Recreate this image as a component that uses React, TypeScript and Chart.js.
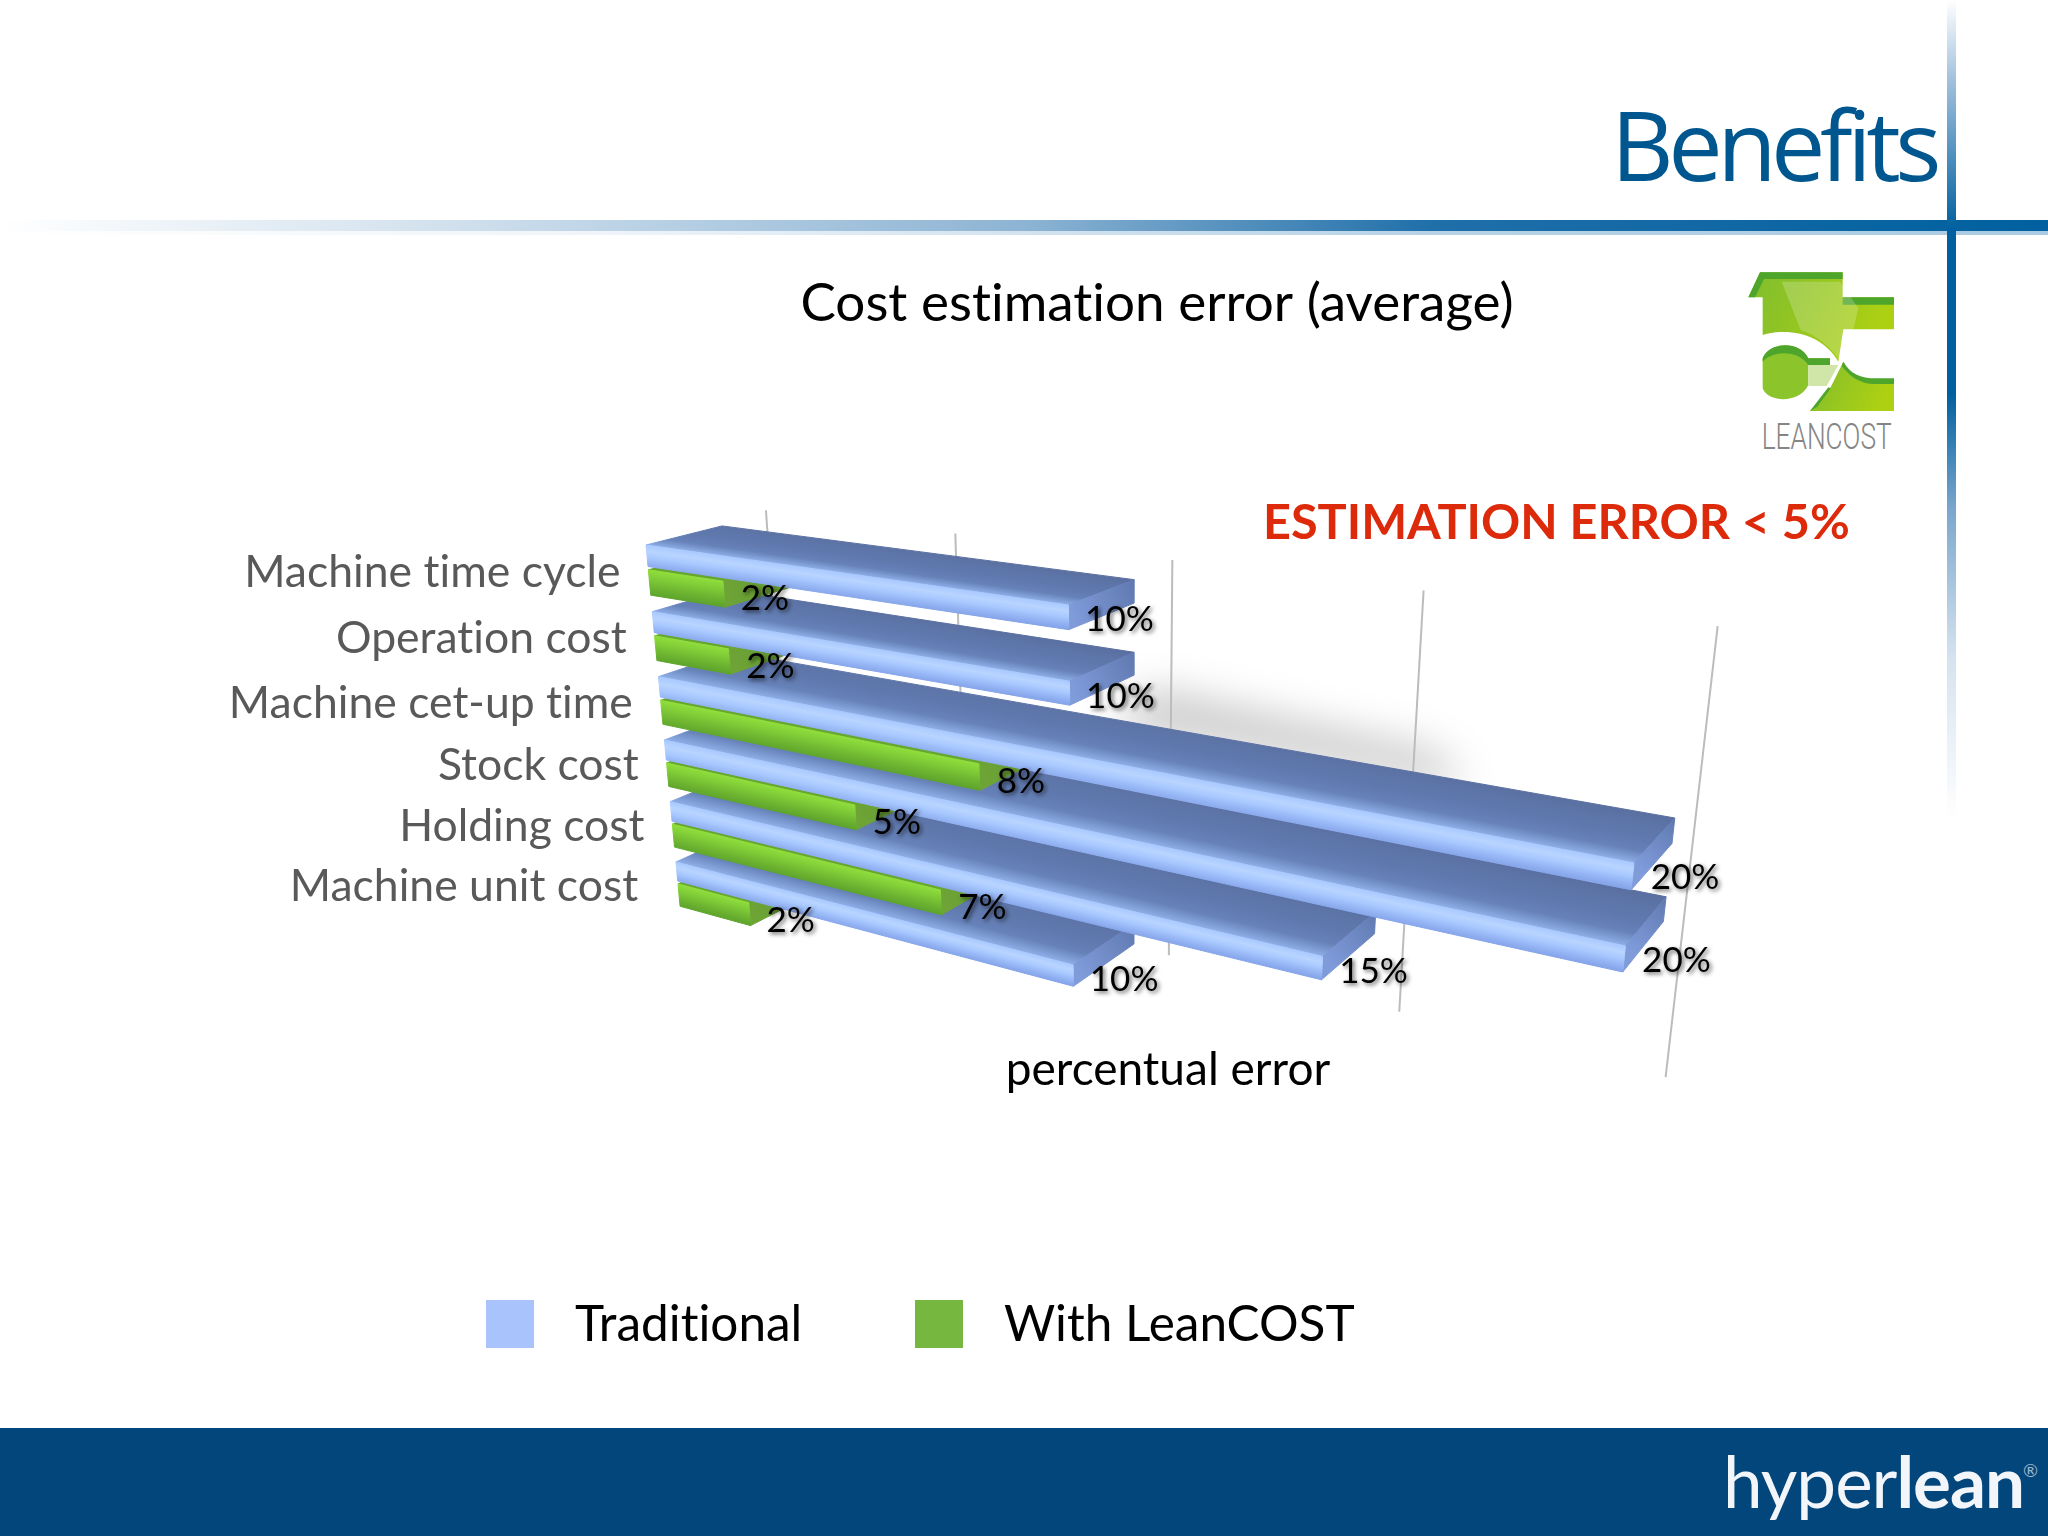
import React, { useEffect, useRef } from "react";
import { Chart, registerables } from "chart.js";

Chart.register(...registerables);

const categories = ["Machine time cycle", "Operation cost", "Machine cet-up time", "Stock cost", "Holding cost", "Machine unit cost"];
const traditional = [10, 10, 20, 20, 15, 10];
const withLeanCost = [2, 2, 8, 5, 7, 2];
const seriesNames = ["Traditional", "With LeanCOST"];
const axisTitle = "percentual error";
const chartTitle = "Cost estimation error (average)";

// perspective of the 3D view
const H = [275, 74, 646, -23.5, 373.2, 545, -0.138, 0.0652];
const VP = { x: 2300, y: 130 };
const BAR_DEPTH = 0.046;
const WALL_DEPTH = 0.0727;
const FONT = "Lato, 'Open Sans', sans-serif";

type P = { x: number; y: number; den: number };
const proj = (v: number, t: number): P => {
  const u = v / 10, w = t / 5;
  const den = H[6] * u + H[7] * w + 1;
  return { x: (H[0] * u + H[1] * w + H[2]) / den, y: (H[3] * u + H[4] * w + H[5]) / den, den };
};
const back = (p: P, lam: number): P => ({
  x: p.x + (lam / p.den) * (VP.x - p.x),
  y: p.y + (lam / p.den) * (VP.y - p.y),
  den: p.den,
});

function poly(ctx: CanvasRenderingContext2D, pts: P[], fill: string | CanvasGradient) {
  ctx.beginPath();
  pts.forEach((p, i) => (i ? ctx.lineTo(p.x, p.y) : ctx.moveTo(p.x, p.y)));
  ctx.closePath();
  ctx.fillStyle = fill;
  ctx.fill();
  ctx.strokeStyle = fill;
  ctx.lineWidth = 1;
  ctx.lineJoin = "round";
  ctx.stroke();
}

// gradient running square to the edge a-b, from that edge towards point far
function acrossGradient(ctx: CanvasRenderingContext2D, a: P, b: P, far: P, stops: string[]) {
  const dx = b.x - a.x, dy = b.y - a.y;
  const len = Math.hypot(dx, dy) || 1;
  const nx = -dy / len, ny = dx / len;
  const dist = (far.x - a.x) * nx + (far.y - a.y) * ny;
  const g = ctx.createLinearGradient(a.x, a.y, a.x + nx * dist, a.y + ny * dist);
  stops.forEach((c, i) => g.addColorStop(i / (stops.length - 1), c));
  return g;
}

const BLUE = {
  top: ["#8fafe8", "#6682b9", "#6079ae", "#5d75a8", "#5a6fa0"],
  side: ["#7f9bda", "#6079b0"],
  front: ["#a9c9ff", "#b8d4ff", "#a8c8ff", "#94b4f4", "#84a3e8"],
};
const GREEN = {
  top: ["#6aa92f", "#4f8f2a", "#3f7a22"],
  side: ["#6ea436", "#5f9632"],
  front: ["#90dd3c", "#7ecb37", "#6eb531", "#5da32c"],
};

const labelInset = [28, 28, 28, 28, 28, 40];

function bar3d(ctx: CanvasRenderingContext2D, v: number, tTop: number, tBot: number, c: typeof BLUE) {
  const A = proj(0, tTop), B = proj(v, tTop), C = proj(v, tBot), D = proj(0, tBot);
  const A2 = back(A, BAR_DEPTH), B2 = back(B, BAR_DEPTH), C2 = back(C, BAR_DEPTH);

  poly(ctx, [A, A2, B2, B], acrossGradient(ctx, A, B, B2, c.top));

  const gs = ctx.createLinearGradient(B.x, B.y, B2.x, B2.y);
  gs.addColorStop(0, c.side[0]);
  gs.addColorStop(1, c.side[1]);
  poly(ctx, [B, B2, C2, C], gs);

  poly(ctx, [A, B, C, D], acrossGradient(ctx, A, B, C, c.front));
}

const perspectivePlugin = {
  id: "perspective",
  beforeDatasetsDraw(chart: any) {
    const ctx: CanvasRenderingContext2D = chart.ctx;
    const xs = chart.scales.x, ys = chart.scales.y;
    const y0 = ys.getPixelForValue(0);
    const step = ys.getPixelForValue(1) - y0;
    const metaBlue = chart.getDatasetMeta(0).data;
    const metaGreen = chart.getDatasetMeta(1).data;
    const first = metaBlue[0];
    const offset = -((first.y - first.height / 2 - y0) / step);
    const toT = (py: number) => (py - y0) / step + offset;
    const box = (el: any) => ({
      v: xs.getValueForPixel(el.x),
      top: toT(el.y - el.height / 2),
      bot: toT(el.y + el.height / 2),
    });

    // soft shadow on the wall behind the long bar
    ctx.save();
    ctx.filter = "blur(20px)";
    const bs = box(metaBlue[2]);
    const s1 = back(proj(9.5, bs.top), BAR_DEPTH), s2 = back(proj(16.5, bs.top), BAR_DEPTH);
    ctx.beginPath();
    ctx.moveTo(s1.x, s1.y + 6);
    ctx.lineTo(s1.x + 40, s1.y - 30);
    ctx.lineTo(s2.x - 30, s2.y - 30);
    ctx.lineTo(s2.x, s2.y + 6);
    ctx.closePath();
    ctx.fillStyle = "rgba(0,0,0,0.22)";
    ctx.fill();
    ctx.restore();

    // gridlines on the back wall
    ctx.strokeStyle = "#bcbcbc";
    ctx.lineWidth = 2;
    const wallTop = -0.07;
    const wallBottom = categories.length - 0.1;
    xs.ticks.forEach((tk: any) => {
      const a = back(proj(tk.value, wallTop), WALL_DEPTH), b = back(proj(tk.value, wallBottom), WALL_DEPTH);
      ctx.beginPath();
      ctx.moveTo(a.x, a.y);
      ctx.lineTo(b.x, b.y);
      ctx.stroke();
    });

    // bars: each category sits over the next one
    for (let i = categories.length - 1; i >= 0; i--) {
      const g = box(metaGreen[i]);
      bar3d(ctx, g.v, g.top, g.bot, GREEN);
      const b = box(metaBlue[i]);
      bar3d(ctx, b.v, b.top, b.bot, BLUE);
    }

    // value labels
    ctx.save();
    ctx.font = `35px ${FONT}`;
    ctx.textAlign = "center";
    ctx.textBaseline = "middle";
    ctx.fillStyle = "#000";
    ctx.shadowColor = "rgba(0,0,0,0.6)";
    ctx.shadowBlur = 4;
    ctx.shadowOffsetX = 2;
    ctx.shadowOffsetY = 2;
    categories.forEach((_, i) => {
      const g = box(metaGreen[i]);
      const pg = proj(g.v, g.top);
      ctx.fillText(`${withLeanCost[i]}%`, pg.x + 42, pg.y + 18);
      const b = box(metaBlue[i]);
      const pb = proj(b.v, b.top);
      ctx.fillText(`${traditional[i]}%`, pb.x + 51, pb.y + 15);
    });
    ctx.restore();

    // no "ti" ligatures, as in the reference
    (ctx as any).letterSpacing = "0.01px";

    // category labels
    ctx.font = `44.5px ${FONT}`;
    ctx.fillStyle = "#595959";
    ctx.textAlign = "right";
    ctx.textBaseline = "middle";
    categories.forEach((name, i) => {
      const p = proj(0, i + 0.4);
      ctx.fillText(name, p.x - labelInset[i], p.y + 1);
    });

    // titles
    ctx.fillStyle = "#000";
    ctx.textAlign = "center";
    ctx.font = `53px ${FONT}`;
    ctx.fillText(chartTitle, 1157, 304);
    ctx.font = `46px ${FONT}`;
    ctx.fillText(axisTitle, 1168, 1070);

    // legend
    const legendX = [486, 915];
    const textX = [575, 1004];
    chart.data.datasets.forEach((d: any, i: number) => {
      ctx.fillStyle = d.backgroundColor;
      ctx.fillRect(legendX[i], 1300, 48, 48);
      ctx.fillStyle = "#000";
      ctx.textAlign = "left";
      ctx.font = `49.5px ${FONT}`;
      ctx.fillText(d.label, textX[i], 1325);
    });
    (ctx as any).letterSpacing = "0px";
    return false;
  },
};

function Logo() {
  return (
    <svg viewBox="0 0 1464 1260" width={488} height={420} style={{ position: "absolute", left: 1560, top: 60 }}>
      <defs>
        <linearGradient id="lg" x1="0" y1="0" x2="1" y2="0.3">
          <stop offset="0" stopColor="#7fbd2f" />
          <stop offset="1" stopColor="#add012" />
        </linearGradient>
      </defs>
      <path d="M565 712 L600 637 H848 V712 H1002 V808 H850 L835 905 C790 825 690 800 608 825 V712 Z" fill="url(#lg)" />
      <path d="M565 712 L600 637 H848 V657 H612 L585 712 Z" fill="#4ea52c" />
      <path d="M848 712 H1002 V734 H848 Z" fill="#4ea52c" />
      <path d="M665 665 H840 L895 745 L880 808 L838 900 C810 860 770 825 722 810 Z" fill="#ffffff" opacity="0.2" />
      <path d="M750 1053 L812 982 L850 905 C870 945 900 968 950 968 H1002 V1053 Z" fill="url(#lg)" />
      <path d="M850 905 C870 940 900 955 950 955 H1002 V972 H945 C900 972 870 950 845 918 Z" fill="#4ea52c" />
      <path d="M750 1053 L805 982 L812 985 L772 1040 Z" fill="#4ea52c" />
      <path d="M608 895 C625 845 720 840 745 895 H810 V915 H745 V975 C720 1030 625 1030 608 985 Z" fill="#8cc42b" />
      <path d="M608 895 C625 845 720 840 745 895 H810 V915 H745 C715 870 640 870 608 905 Z" fill="#4ea52c" />
      <path d="M745 915 H835 L800 978 H745 Z" fill="#cfe6a8" />
      <text x="605" y="1168" fontFamily="Roboto, sans-serif" fontWeight="300" fontSize="112" fill="#858585" textLength="390" lengthAdjust="spacingAndGlyphs">LEANCOST</text>
    </svg>
  );
}

export default function App() {
  const ref = useRef<HTMLCanvasElement>(null);
  useEffect(() => {
    document.body.style.margin = "0";
    const chart = new Chart(ref.current!, {
      type: "bar",
      data: {
        labels: categories,
        datasets: [
          { label: seriesNames[0], data: traditional, backgroundColor: "#a9c4fc", categoryPercentage: 0.8, barPercentage: 0.8 },
          { label: seriesNames[1], data: withLeanCost, backgroundColor: "#76b83f", categoryPercentage: 0.8, barPercentage: 0.95 },
        ],
      },
      options: {
        indexAxis: "y",
        responsive: false,
        animation: false,
        devicePixelRatio: 1,
        layout: { padding: { left: 650, right: 400, top: 520, bottom: 520 } },
        plugins: { legend: { display: false }, tooltip: { enabled: false }, title: { display: false } },
        scales: {
          x: { min: 0, max: 20, ticks: { stepSize: 5, display: false }, grid: { display: false }, border: { display: false } },
          y: { ticks: { display: false }, grid: { display: false }, border: { display: false } },
        },
      },
      plugins: [perspectivePlugin],
    } as any);
    return () => chart.destroy();
  }, []);

  return (
    <div style={{ position: "absolute", left: 0, top: 0, width: 2048, height: 1536, background: "#fff", overflow: "hidden" }}>
      {/* slide rules */}
      <div style={{ position: "absolute", left: 0, top: 220, width: 2048, height: 11, background: "linear-gradient(90deg,#ffffff 0%,#d5e3ef 20%,#8db4d4 50%,#1f6fa9 70%,#00609f 100%)" }} />
      <div style={{ position: "absolute", left: 0, top: 231, width: 2048, height: 4, background: "linear-gradient(90deg,#ffffff 0%,#eef4f9 30%,#b7d2e6 70%,#a9cbe3 100%)" }} />
      <div style={{ position: "absolute", left: 1947, top: 0, width: 9, height: 820, background: "linear-gradient(180deg,#ffffff 0%,#9fbfdc 10%,#00609f 28%,#00609f 48%,#7aa6cd 62%,#d4e2ef 80%,#ffffff 100%)" }} />
      <div style={{ position: "absolute", left: 1611, top: 83, fontFamily: "'Open Sans', sans-serif", fontSize: 97, lineHeight: "120px", color: "#00578f", letterSpacing: -5.5, whiteSpace: "nowrap" }}>Benefits</div>
      <div style={{ position: "absolute", left: 1263, top: 488, fontFamily: "Lato, sans-serif", fontWeight: 700, fontSize: 48.6, lineHeight: "64px", color: "#dc2a0a", whiteSpace: "nowrap" }}>ESTIMATION ERROR &lt; 5%</div>
      <Logo />
      <div style={{ position: "absolute", left: 0, top: 1428, width: 2048, height: 108, background: "#03467c" }} />
      <div style={{ position: "absolute", left: 1723, top: 1431, fontFamily: "Lato, sans-serif", fontSize: 71, lineHeight: "100px", color: "#f2f6fa", whiteSpace: "nowrap", letterSpacing: -1 }}>
        hyper<span style={{ fontWeight: 700 }}>lean</span>
      </div>
      <div style={{ position: "absolute", left: 2023, top: 1459, fontFamily: "Lato, sans-serif", fontSize: 18, lineHeight: "22px", color: "#9fb6cc" }}>®</div>
      <canvas ref={ref} width={2048} height={1536} style={{ position: "absolute", left: 0, top: 0, display: "block" }} />
    </div>
  );
}
